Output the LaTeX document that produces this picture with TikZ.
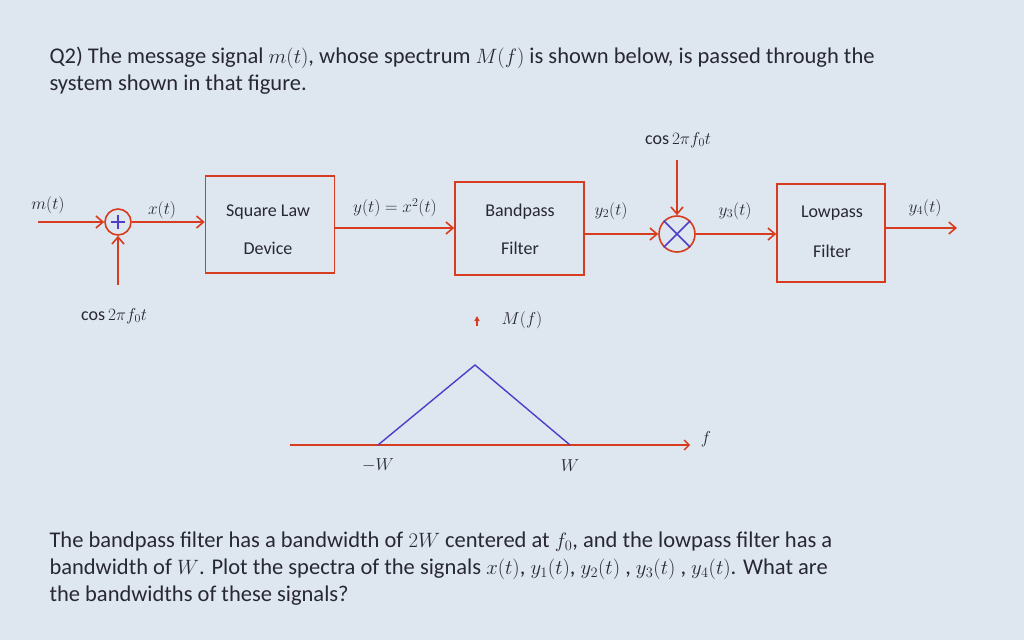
\documentclass[tikz,border=0pt]{standalone}
\usepackage{fontspec}
\setmainfont{Carlito}
\usetikzlibrary{arrows.meta}
\definecolor{bg}{RGB}{222,230,240}
\definecolor{ink}{RGB}{40,40,50}
\definecolor{red1}{RGB}{215,60,30}
\definecolor{purp}{RGB}{80,60,200}
\tikzset{
  blk/.style={draw=red1,line width=1.6pt,minimum width=#1},
  sig/.style={red1,line width=1.6pt,-{Straight Barb[length=7pt,width=12pt]}},
  lbl/.style={text=ink,font=\fontsize{18}{20}\selectfont},
  mlbl/.style={text=ink,font=\fontsize{18}{20}\selectfont},
  para/.style={text=ink,font=\fontsize{22.5}{27}\selectfont,anchor=north west,align=left}
}
\begin{document}
\begin{tikzpicture}[x=1pt,y=-1pt]
\fill[bg] (0,0) rectangle (1024,640);
\useasboundingbox (0,0) rectangle (1024,640);
\node[para] (title) at (46,44) {Q2) The message signal $m(t)$, whose spectrum $M(f)$ is shown below, is passed through the\\system shown in that figure.};
% boxes
\node[blk,minimum width=129pt,minimum height=97pt] (b1) at (270,224.5) {};
\node[blk,minimum width=129pt,minimum height=93pt] (b2) at (519.5,228.5) {};
\node[blk,minimum width=108pt,minimum height=98pt] (b3) at (831,233) {};
\node[lbl] (t1a) at (268,212) {Square Law};
\node[lbl] (t1b) at (268,248) {Device};
\node[lbl] (t2a) at (520,212) {Bandpass};
\node[lbl] (t2b) at (520,248) {Filter};
\node[lbl] (t3a) at (832,213) {Lowpass};
\node[lbl] (t3b) at (832,251) {Filter};
% adder and mixer
\node[draw=red1,line width=1.6pt,circle,minimum size=26pt,inner sep=0pt] (add) at (118,222) {};
\draw[purp,line width=1.5pt] ([xshift=-7pt]add.center) -- ([xshift=7pt]add.center) ([yshift=-7pt]add.center) -- ([yshift=7pt]add.center);
\node[draw=red1,line width=1.6pt,circle,minimum size=36pt,inner sep=0pt] (mix) at (677,234) {};
\draw[purp,line width=1.5pt] (mix.north east) -- (mix.south west) (mix.north west) -- (mix.south east);
\coordinate (in) at (38,222);
\coordinate (addb) at (118,285);
\coordinate (mixt) at (677,160);
\coordinate (out) at (957,228);
\draw[sig] (in) -- (add.west);
\draw[sig] (addb) -- (add.south);
\draw[sig] (add.east) -- (b1.west |- add.east);
\draw[sig] (b1.east |- 0,228) -- (b2.west |- 0,228);
\draw[sig] (b2.east |- mix.west) -- (mix.west);
\draw[sig] (mixt) -- (mix.north);
\draw[sig] (mix.east) -- (b3.west |- mix.east);
\draw[sig] (b3.east |- out) -- (out);
\node[mlbl] (lm) at (48,205) {$m(t)$};
\node[mlbl] (lx) at (162,210) {$x(t)$};
\node[mlbl] (ly) at (395,208) {$y(t) = x^2(t)$};
\node[mlbl] (ly2) at (611,211) {$y_2(t)$};
\node[mlbl] (ly3) at (735,211) {$y_3(t)$};
\node[mlbl] (ly4) at (925,208) {$y_4(t)$};
\node[mlbl] (lc1) at (114,316) {$\cos 2\pi f_0 t$};
\node[mlbl] (lc2) at (678,140) {$\cos 2\pi f_0 t$};
% spectrum
\coordinate (ax0) at (290,445);
\coordinate (ax1) at (690,445);
\coordinate (vt) at (477,316);
\coordinate (vb) at (477,326);
\draw[red1,line width=1.4pt,-{Straight Barb[length=5pt,width=10pt]}] (ax0) -- (ax1);
\draw[red1,line width=1.4pt,-{Triangle[length=5pt,width=5pt]}] (vb) -- (vt);
\coordinate (pl) at (378,445);
\coordinate (pt) at (475,365);
\coordinate (pr) at (570,445);
\draw[purp,line width=1.4pt] (pl) -- (pt) -- (pr);
\node[mlbl] (lM) at (522,320) {$M(f)$};
\node[mlbl] (lW1) at (378,465) {$-W$};
\node[mlbl] (lW2) at (570,466) {$W$};
\node[mlbl] (lf) at (706,439) {$f$};
\node[para] (body) at (46,528) {The bandpass filter has a bandwidth of $2W$ centered at $f_0$, and the lowpass filter has a\\bandwidth of $W$. Plot the spectra of the signals $x(t)$, $y_1(t)$, $y_2(t)$ , $y_3(t)$ , $y_4(t)$. What are\\the bandwidths of these signals?};
\end{tikzpicture}
\end{document}
